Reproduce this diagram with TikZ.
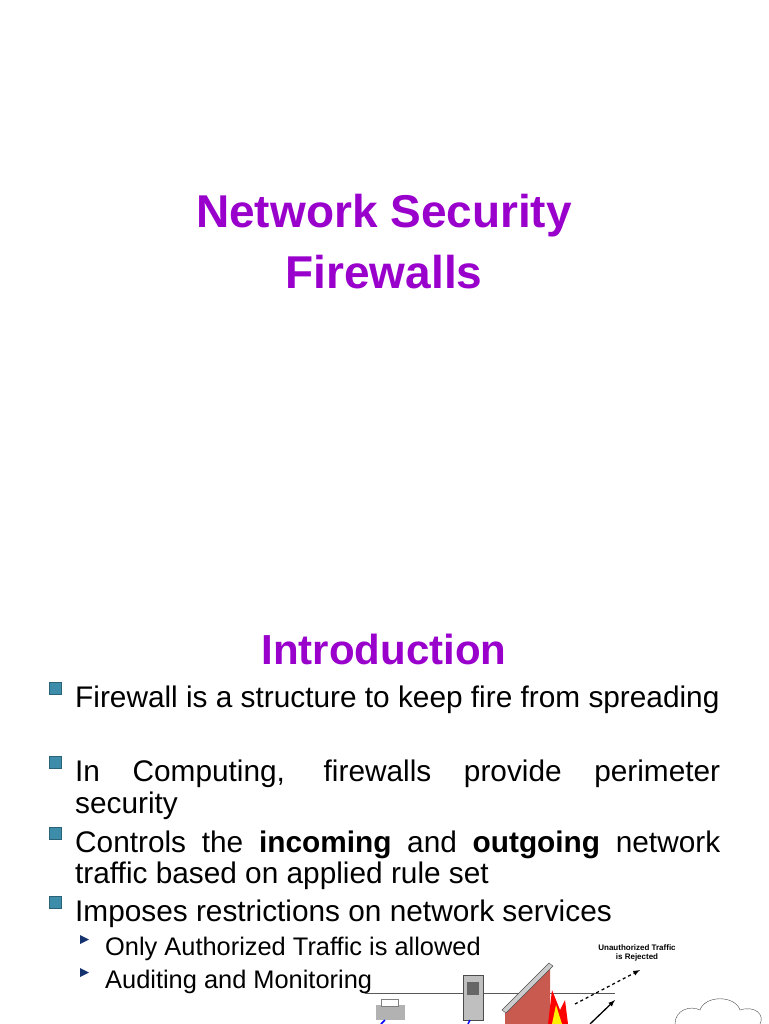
\documentclass[tikz,border=0pt]{standalone}
\usepackage{fontspec}
\setmainfont{Liberation Sans}
\definecolor{ttl}{RGB}{153,0,204}
\definecolor{bul}{RGB}{60,140,170}
\definecolor{tri}{RGB}{20,50,110}
\definecolor{brick}{RGB}{200,90,80}
\begin{document}
\begin{tikzpicture}[x=1pt,y=-1pt,
 ttlstyle/.style={text=ttl,font=\fontsize{46}{46}\selectfont\bfseries,inner sep=0},
 txt/.style={anchor=base west,font=\fontsize{29.8}{30}\selectfont,inner sep=0},
 sub/.style={anchor=base west,font=\fontsize{25.4}{26}\selectfont,inner sep=0},
 sq/.style={fill=bul,draw=bul!70!black,line width=0.3pt}]
\useasboundingbox (0,0) rectangle (768,1024);
\node[ttlstyle] (t1) at (384,216) {Network Security};
\node[ttlstyle] (t2) at (384,272) {Firewalls};
\node[ttlstyle,font=\fontsize{42}{42}\selectfont\bfseries] (t3) at (384,649) {Introduction};
\foreach \y in {697,771,842,911}{\fill[sq] (49,\y-15) rectangle (61,\y-3);}
\foreach \y in {946,979}{\fill[tri] (80,\y-11) -- (89,\y-6.5) -- (80,\y-2) -- cycle;}
\node[txt] (l1) at (75,707) {Firewall is a structure to keep fire from spreading};
\node[txt] (l2) at (75,781) {\makebox[645pt][s]{In Computing, firewalls provide perimeter}};
\node[txt] (l3) at (75,813) {security};
\node[txt] (l4) at (75,852) {\makebox[645pt][s]{Controls the \textbf{incoming} and \textbf{outgoing} network}};
\node[txt] (l5) at (75,883) {traffic based on applied rule set};
\node[txt] (l6) at (75,921) {Imposes restrictions on network services};
\node[sub] (s1) at (105,955) {Only Authorized Traffic is allowed};
\node[sub] (s2) at (105,988) {Auditing and Monitoring};
% illustration
\draw[gray!70!black,line width=1pt] (365,993) -- (615,993);
% printer
\fill[gray!60] (376,1005) rectangle (405,1020);
\fill[white,draw=gray] (381,999) rectangle (398,1006);
\draw[blue,line width=1.5pt] (385,1020) -- (381,1024);
% server
\fill[gray!50,draw=gray!60!black] (463,975) rectangle (483,1020);
\fill[gray!80!black] (467,982) rectangle (479,995);
\draw[blue,line width=1.5pt] (470,1020) -- (468,1024);
% wall
\fill[brick] (505,1024) -- (505,1010) -- (550,965) -- (550,1024) -- cycle;
\fill[gray!40,draw=gray!60!black] (502,1010) -- (549,963) -- (553,966) -- (506,1013) -- cycle;
\fill[red] (548,1024) -- (552,990) -- (560,1010) -- (565,1000) -- (568,1024) -- cycle;
\fill[yellow] (552,1024) -- (556,1005) -- (562,1024) -- cycle;
% arrows
\node[font=\fontsize{8}{9}\selectfont\bfseries,align=center,inner sep=0] (lab) at (637,953) {Unauthorized Traffic\\is Rejected};
\coordinate (a1) at (575,1004);
\coordinate (a2) at (640,970);
\draw[dashed,line width=1.3pt,-latex] (a1) -- (a2);
\coordinate (b1) at (590,1024);
\coordinate (b2) at (615,1000);
\draw[line width=1.3pt,-latex] (b1) -- (b2);
% cloud
\draw[gray!60!black] (675,1024) .. controls (675,1010) and (690,1005) .. (700,1010) .. controls (705,995) and (735,995) .. (740,1010) .. controls (755,1005) and (765,1015) .. (760,1024);
\end{tikzpicture}
\end{document}
